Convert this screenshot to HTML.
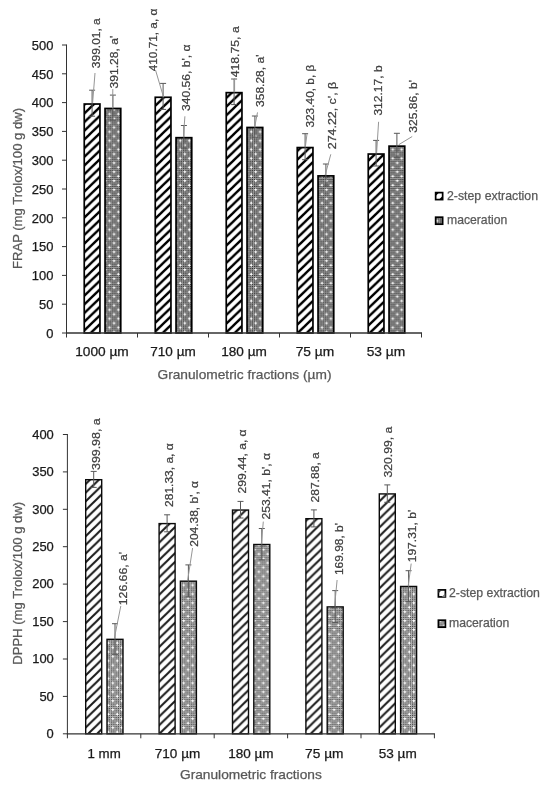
<!DOCTYPE html>
<html lang="en"><head><meta charset="utf-8"><title>FRAP and DPPH by granulometric fraction</title>
<style>html,body{margin:0;padding:0;background:#fff}body{width:550px;height:788px;overflow:hidden}svg{display:block}text{font-family:'Liberation Sans', 'DejaVu Sans', sans-serif;stroke-width:0.25px}</style>
</head><body>
<svg width="550" height="788" viewBox="0 0 550 788">
<defs>
<pattern id="s1" patternUnits="userSpaceOnUse" width="9.0" height="8.68" y="3.8">
<rect width="9.0" height="8.68" fill="#fff"/>
<polygon fill="#000" points="0.00,-1.65 9.00,-10.33 9.00,-7.03 0.00,1.65"/>
<polygon fill="#000" points="0.00,7.03 9.00,-1.65 9.00,1.65 0.00,10.33"/>
<polygon fill="#000" points="0.00,15.71 9.00,7.03 9.00,10.33 0.00,19.01"/>
</pattern>
<pattern id="s2" patternUnits="userSpaceOnUse" width="8.9" height="8.7" y="2.2">
<rect width="8.9" height="8.7" fill="#fff"/>
<polygon fill="#1a1a1a" points="0.00,-1.40 8.90,-10.10 8.90,-7.30 0.00,1.40"/>
<polygon fill="#1a1a1a" points="0.00,7.30 8.90,-1.40 8.90,1.40 0.00,10.10"/>
<polygon fill="#1a1a1a" points="0.00,16.00 8.90,7.30 8.90,10.10 0.00,18.80"/>
</pattern>
<pattern id="d1" patternUnits="userSpaceOnUse" width="8.85" height="8.9" x="1.2" y="5.0">
<rect width="8.85" height="8.9" fill="#989898"/>
<rect x="0.56" y="0.56" width="1.1" height="1.1" fill="#161616"/>
<rect x="0.56" y="2.79" width="1.1" height="1.1" fill="#161616"/>
<rect x="0.56" y="5.01" width="1.1" height="1.1" fill="#161616"/>
<rect x="0.56" y="7.24" width="1.1" height="1.1" fill="#161616"/>
<rect x="2.77" y="0.56" width="1.1" height="1.1" fill="#161616"/>
<rect x="2.77" y="2.79" width="1.1" height="1.1" fill="#161616"/>
<rect x="2.77" y="5.01" width="1.1" height="1.1" fill="#161616"/>
<rect x="2.77" y="7.24" width="1.1" height="1.1" fill="#161616"/>
<rect x="4.98" y="0.56" width="1.1" height="1.1" fill="#161616"/>
<rect x="4.98" y="2.79" width="1.1" height="1.1" fill="#161616"/>
<rect x="4.98" y="5.01" width="1.1" height="1.1" fill="#161616"/>
<rect x="4.98" y="7.24" width="1.1" height="1.1" fill="#161616"/>
<rect x="7.19" y="0.56" width="1.1" height="1.1" fill="#161616"/>
<rect x="7.19" y="2.79" width="1.1" height="1.1" fill="#161616"/>
<rect x="7.19" y="5.01" width="1.1" height="1.1" fill="#161616"/>
<rect x="7.19" y="7.24" width="1.1" height="1.1" fill="#161616"/>
<polygon fill="#fff" points="0.65,2.23 2.21,0.66 3.77,2.23 2.21,3.79"/>
<polygon fill="#fff" points="5.07,6.68 6.64,5.11 8.20,6.68 6.64,8.24"/>
</pattern>
<pattern id="d2" patternUnits="userSpaceOnUse" width="8.85" height="8.9" x="0" y="0">
<rect width="8.85" height="8.9" fill="#b0b0b0"/>
<rect x="0.56" y="0.56" width="1.1" height="1.1" fill="#333"/>
<rect x="0.56" y="2.79" width="1.1" height="1.1" fill="#333"/>
<rect x="0.56" y="5.01" width="1.1" height="1.1" fill="#333"/>
<rect x="0.56" y="7.24" width="1.1" height="1.1" fill="#333"/>
<rect x="2.77" y="0.56" width="1.1" height="1.1" fill="#333"/>
<rect x="2.77" y="2.79" width="1.1" height="1.1" fill="#333"/>
<rect x="2.77" y="5.01" width="1.1" height="1.1" fill="#333"/>
<rect x="2.77" y="7.24" width="1.1" height="1.1" fill="#333"/>
<rect x="4.98" y="0.56" width="1.1" height="1.1" fill="#333"/>
<rect x="4.98" y="2.79" width="1.1" height="1.1" fill="#333"/>
<rect x="4.98" y="5.01" width="1.1" height="1.1" fill="#333"/>
<rect x="4.98" y="7.24" width="1.1" height="1.1" fill="#333"/>
<rect x="7.19" y="0.56" width="1.1" height="1.1" fill="#333"/>
<rect x="7.19" y="2.79" width="1.1" height="1.1" fill="#333"/>
<rect x="7.19" y="5.01" width="1.1" height="1.1" fill="#333"/>
<rect x="7.19" y="7.24" width="1.1" height="1.1" fill="#333"/>
<polygon fill="#fff" points="0.65,2.23 2.21,0.66 3.77,2.23 2.21,3.79"/>
<polygon fill="#fff" points="5.07,6.68 6.64,5.11 8.20,6.68 6.64,8.24"/>
</pattern>
</defs>
<rect width="550" height="788" fill="#fff"/>
<rect x="84.25" y="104.02" width="15.70" height="228.98" fill="url(#s1)" stroke="#000" stroke-width="1.7"/>
<rect x="105.05" y="108.47" width="15.70" height="224.53" fill="url(#d1)" stroke="#000" stroke-width="1.7"/>
<rect x="155.25" y="97.28" width="15.70" height="235.72" fill="url(#s1)" stroke="#000" stroke-width="1.7"/>
<rect x="176.05" y="137.69" width="15.70" height="195.31" fill="url(#d1)" stroke="#000" stroke-width="1.7"/>
<rect x="226.25" y="92.65" width="15.70" height="240.35" fill="url(#s1)" stroke="#000" stroke-width="1.7"/>
<rect x="247.05" y="127.48" width="15.70" height="205.52" fill="url(#d1)" stroke="#000" stroke-width="1.7"/>
<rect x="297.25" y="147.57" width="15.70" height="185.43" fill="url(#s1)" stroke="#000" stroke-width="1.7"/>
<rect x="318.05" y="175.90" width="15.70" height="157.10" fill="url(#d1)" stroke="#000" stroke-width="1.7"/>
<rect x="368.25" y="154.04" width="15.70" height="178.96" fill="url(#s1)" stroke="#000" stroke-width="1.7"/>
<rect x="389.05" y="146.15" width="15.70" height="186.85" fill="url(#d1)" stroke="#000" stroke-width="1.7"/>
<line x1="92.1" y1="90.2" x2="92.1" y2="116.2" stroke="#585858" stroke-width="1"/>
<line x1="89.1" y1="90.2" x2="95.1" y2="90.2" stroke="#585858" stroke-width="1"/>
<line x1="89.1" y1="116.2" x2="95.1" y2="116.2" stroke="#585858" stroke-width="1"/>
<line x1="112.9" y1="95.1" x2="112.9" y2="120.1" stroke="#585858" stroke-width="1"/>
<line x1="109.9" y1="95.1" x2="115.9" y2="95.1" stroke="#585858" stroke-width="1"/>
<line x1="109.9" y1="120.1" x2="115.9" y2="120.1" stroke="#585858" stroke-width="1"/>
<line x1="163.1" y1="83.4" x2="163.1" y2="109.4" stroke="#585858" stroke-width="1"/>
<line x1="160.1" y1="83.4" x2="166.1" y2="83.4" stroke="#585858" stroke-width="1"/>
<line x1="160.1" y1="109.4" x2="166.1" y2="109.4" stroke="#585858" stroke-width="1"/>
<line x1="183.9" y1="125.5" x2="183.9" y2="148.1" stroke="#585858" stroke-width="1"/>
<line x1="180.9" y1="125.5" x2="186.9" y2="125.5" stroke="#585858" stroke-width="1"/>
<line x1="180.9" y1="148.1" x2="186.9" y2="148.1" stroke="#585858" stroke-width="1"/>
<line x1="234.1" y1="79.0" x2="234.1" y2="104.6" stroke="#585858" stroke-width="1"/>
<line x1="231.1" y1="79.0" x2="237.1" y2="79.0" stroke="#585858" stroke-width="1"/>
<line x1="231.1" y1="104.6" x2="237.1" y2="104.6" stroke="#585858" stroke-width="1"/>
<line x1="254.9" y1="116.0" x2="254.9" y2="137.2" stroke="#585858" stroke-width="1"/>
<line x1="251.9" y1="116.0" x2="257.9" y2="116.0" stroke="#585858" stroke-width="1"/>
<line x1="251.9" y1="137.2" x2="257.9" y2="137.2" stroke="#585858" stroke-width="1"/>
<line x1="305.1" y1="133.7" x2="305.1" y2="159.7" stroke="#585858" stroke-width="1"/>
<line x1="302.1" y1="133.7" x2="308.1" y2="133.7" stroke="#585858" stroke-width="1"/>
<line x1="302.1" y1="159.7" x2="308.1" y2="159.7" stroke="#585858" stroke-width="1"/>
<line x1="325.9" y1="164.0" x2="325.9" y2="186.0" stroke="#585858" stroke-width="1"/>
<line x1="322.9" y1="164.0" x2="328.9" y2="164.0" stroke="#585858" stroke-width="1"/>
<line x1="322.9" y1="186.0" x2="328.9" y2="186.0" stroke="#585858" stroke-width="1"/>
<line x1="376.1" y1="140.4" x2="376.1" y2="166.0" stroke="#585858" stroke-width="1"/>
<line x1="373.1" y1="140.4" x2="379.1" y2="140.4" stroke="#585858" stroke-width="1"/>
<line x1="373.1" y1="166.0" x2="379.1" y2="166.0" stroke="#585858" stroke-width="1"/>
<line x1="396.9" y1="133.3" x2="396.9" y2="157.3" stroke="#585858" stroke-width="1"/>
<line x1="393.9" y1="133.3" x2="399.9" y2="133.3" stroke="#585858" stroke-width="1"/>
<line x1="393.9" y1="157.3" x2="399.9" y2="157.3" stroke="#585858" stroke-width="1"/>
<line x1="66.5" y1="44.5" x2="66.5" y2="333.5" stroke="#333" stroke-width="1"/>
<line x1="66.0" y1="333.0" x2="422.0" y2="333.0" stroke="#333" stroke-width="1.3"/>
<line x1="62.0" y1="333.0" x2="66.5" y2="333.0" stroke="#333" stroke-width="1"/>
<text x="53.4" y="337.7" font-size="12" fill="#1a1a1a" stroke="#1a1a1a" text-anchor="end" textLength="7.2" lengthAdjust="spacingAndGlyphs">0</text>
<line x1="62.0" y1="304.2" x2="66.5" y2="304.2" stroke="#333" stroke-width="1"/>
<text x="53.4" y="308.9" font-size="12" fill="#1a1a1a" stroke="#1a1a1a" text-anchor="end" textLength="14.4" lengthAdjust="spacingAndGlyphs">50</text>
<line x1="62.0" y1="275.4" x2="66.5" y2="275.4" stroke="#333" stroke-width="1"/>
<text x="53.4" y="280.1" font-size="12" fill="#1a1a1a" stroke="#1a1a1a" text-anchor="end" textLength="21.6" lengthAdjust="spacingAndGlyphs">100</text>
<line x1="62.0" y1="246.6" x2="66.5" y2="246.6" stroke="#333" stroke-width="1"/>
<text x="53.4" y="251.3" font-size="12" fill="#1a1a1a" stroke="#1a1a1a" text-anchor="end" textLength="21.6" lengthAdjust="spacingAndGlyphs">150</text>
<line x1="62.0" y1="217.8" x2="66.5" y2="217.8" stroke="#333" stroke-width="1"/>
<text x="53.4" y="222.5" font-size="12" fill="#1a1a1a" stroke="#1a1a1a" text-anchor="end" textLength="21.6" lengthAdjust="spacingAndGlyphs">200</text>
<line x1="62.0" y1="189.0" x2="66.5" y2="189.0" stroke="#333" stroke-width="1"/>
<text x="53.4" y="193.7" font-size="12" fill="#1a1a1a" stroke="#1a1a1a" text-anchor="end" textLength="21.6" lengthAdjust="spacingAndGlyphs">250</text>
<line x1="62.0" y1="160.2" x2="66.5" y2="160.2" stroke="#333" stroke-width="1"/>
<text x="53.4" y="164.9" font-size="12" fill="#1a1a1a" stroke="#1a1a1a" text-anchor="end" textLength="21.6" lengthAdjust="spacingAndGlyphs">300</text>
<line x1="62.0" y1="131.4" x2="66.5" y2="131.4" stroke="#333" stroke-width="1"/>
<text x="53.4" y="136.1" font-size="12" fill="#1a1a1a" stroke="#1a1a1a" text-anchor="end" textLength="21.6" lengthAdjust="spacingAndGlyphs">350</text>
<line x1="62.0" y1="102.6" x2="66.5" y2="102.6" stroke="#333" stroke-width="1"/>
<text x="53.4" y="107.3" font-size="12" fill="#1a1a1a" stroke="#1a1a1a" text-anchor="end" textLength="21.6" lengthAdjust="spacingAndGlyphs">400</text>
<line x1="62.0" y1="73.8" x2="66.5" y2="73.8" stroke="#333" stroke-width="1"/>
<text x="53.4" y="78.5" font-size="12" fill="#1a1a1a" stroke="#1a1a1a" text-anchor="end" textLength="21.6" lengthAdjust="spacingAndGlyphs">450</text>
<line x1="62.0" y1="45.0" x2="66.5" y2="45.0" stroke="#333" stroke-width="1"/>
<text x="53.4" y="49.7" font-size="12" fill="#1a1a1a" stroke="#1a1a1a" text-anchor="end" textLength="21.6" lengthAdjust="spacingAndGlyphs">500</text>
<line x1="66.5" y1="333.0" x2="66.5" y2="337.5" stroke="#333" stroke-width="1"/>
<line x1="137.5" y1="333.0" x2="137.5" y2="337.5" stroke="#333" stroke-width="1"/>
<line x1="208.5" y1="333.0" x2="208.5" y2="337.5" stroke="#333" stroke-width="1"/>
<line x1="279.5" y1="333.0" x2="279.5" y2="337.5" stroke="#333" stroke-width="1"/>
<line x1="350.5" y1="333.0" x2="350.5" y2="337.5" stroke="#333" stroke-width="1"/>
<line x1="421.5" y1="333.0" x2="421.5" y2="337.5" stroke="#333" stroke-width="1"/>
<text x="102.0" y="356.0" font-size="12.4" fill="#1a1a1a" stroke="#1a1a1a" text-anchor="middle" textLength="53.6" lengthAdjust="spacingAndGlyphs">1000 µm</text>
<text x="173.0" y="356.0" font-size="12.4" fill="#1a1a1a" stroke="#1a1a1a" text-anchor="middle" textLength="45.4" lengthAdjust="spacingAndGlyphs">710 µm</text>
<text x="244.0" y="356.0" font-size="12.4" fill="#1a1a1a" stroke="#1a1a1a" text-anchor="middle" textLength="45.6" lengthAdjust="spacingAndGlyphs">180 µm</text>
<text x="315.0" y="356.0" font-size="12.4" fill="#1a1a1a" stroke="#1a1a1a" text-anchor="middle" textLength="38.6" lengthAdjust="spacingAndGlyphs">75 µm</text>
<text x="386.0" y="356.0" font-size="12.4" fill="#1a1a1a" stroke="#1a1a1a" text-anchor="middle" textLength="38.6" lengthAdjust="spacingAndGlyphs">53 µm</text>
<line x1="95.0" y1="73.0" x2="92.6" y2="103.0" stroke="#969696" stroke-width="1"/>
<line x1="112.8" y1="89.0" x2="112.6" y2="108.0" stroke="#969696" stroke-width="1"/>
<line x1="155.5" y1="70.0" x2="163.5" y2="97.0" stroke="#969696" stroke-width="1"/>
<line x1="184.9" y1="116.3" x2="183.4" y2="137.0" stroke="#969696" stroke-width="1"/>
<line x1="234.6" y1="78.0" x2="234.6" y2="92.0" stroke="#969696" stroke-width="1"/>
<line x1="257.5" y1="112.4" x2="254.7" y2="127.0" stroke="#969696" stroke-width="1"/>
<line x1="307.0" y1="134.0" x2="305.4" y2="146.5" stroke="#969696" stroke-width="1"/>
<line x1="330.8" y1="154.3" x2="325.2" y2="175.0" stroke="#969696" stroke-width="1"/>
<line x1="378.6" y1="121.8" x2="376.6" y2="153.0" stroke="#969696" stroke-width="1"/>
<line x1="412.2" y1="136.5" x2="398.7" y2="144.7" stroke="#969696" stroke-width="1"/>
<text x="100.3" y="68.2" font-size="11.6" fill="#404040" stroke="#404040" text-anchor="start" textLength="50.0" lengthAdjust="spacingAndGlyphs" transform="rotate(-90 100.3 68.2)">399.01, a</text>
<text x="118.0" y="88.5" font-size="11.6" fill="#404040" stroke="#404040" text-anchor="start" textLength="52.7" lengthAdjust="spacingAndGlyphs" transform="rotate(-90 118.0 88.5)">391.28, a'</text>
<text x="157.5" y="71.3" font-size="11.6" fill="#404040" stroke="#404040" text-anchor="start" textLength="62.6" lengthAdjust="spacingAndGlyphs" transform="rotate(-90 157.5 71.3)">410.71, a, α</text>
<text x="190.0" y="111.0" font-size="11.6" fill="#404040" stroke="#404040" text-anchor="start" textLength="66.5" lengthAdjust="spacingAndGlyphs" transform="rotate(-90 190.0 111.0)">340.56, b', α</text>
<text x="239.3" y="77.3" font-size="11.6" fill="#404040" stroke="#404040" text-anchor="start" textLength="51.0" lengthAdjust="spacingAndGlyphs" transform="rotate(-90 239.3 77.3)">418.75, a</text>
<text x="264.0" y="107.0" font-size="11.6" fill="#404040" stroke="#404040" text-anchor="start" textLength="52.5" lengthAdjust="spacingAndGlyphs" transform="rotate(-90 264.0 107.0)">358.28, a'</text>
<text x="313.8" y="127.6" font-size="11.6" fill="#404040" stroke="#404040" text-anchor="start" textLength="63.0" lengthAdjust="spacingAndGlyphs" transform="rotate(-90 313.8 127.6)">323.40, b, β</text>
<text x="336.5" y="149.2" font-size="11.6" fill="#404040" stroke="#404040" text-anchor="start" textLength="67.4" lengthAdjust="spacingAndGlyphs" transform="rotate(-90 336.5 149.2)">274.22, c', β</text>
<text x="382.0" y="115.6" font-size="11.6" fill="#404040" stroke="#404040" text-anchor="start" textLength="50.3" lengthAdjust="spacingAndGlyphs" transform="rotate(-90 382.0 115.6)">312.17, b</text>
<text x="417.5" y="132.7" font-size="11.6" fill="#404040" stroke="#404040" text-anchor="start" textLength="52.7" lengthAdjust="spacingAndGlyphs" transform="rotate(-90 417.5 132.7)">325.86, b'</text>
<text x="157.5" y="379.0" font-size="12.4" fill="#595959" stroke="#595959" text-anchor="start" textLength="174.0" lengthAdjust="spacingAndGlyphs">Granulometric fractions (µm)</text>
<text x="21.5" y="269.0" font-size="12.4" fill="#595959" stroke="#595959" text-anchor="start" textLength="161.0" lengthAdjust="spacingAndGlyphs" transform="rotate(-90 21.5 269.0)">FRAP (mg Trolox/100 g dw)</text>
<rect x="435.65" y="192.60" width="7.00" height="7.00" fill="#fff" stroke="#000" stroke-width="1.7"/>
<polygon fill="#000" points="435.65,192.60 439.15,192.60 435.65,196.10"/>
<polygon fill="#000" points="442.65,199.60 438.95,199.60 442.65,195.90"/>
<text x="447.0" y="199.8" font-size="12.4" fill="#595959" stroke="#595959" text-anchor="start" textLength="91.0" lengthAdjust="spacingAndGlyphs">2-step extraction</text>
<rect x="435.65" y="217.20" width="7.00" height="7.00" fill="url(#d1)" stroke="#000" stroke-width="1.7"/>
<text x="447.0" y="224.4" font-size="12.4" fill="#595959" stroke="#595959" text-anchor="start" textLength="60.3" lengthAdjust="spacingAndGlyphs">maceration</text>
<rect x="85.70" y="479.69" width="16.00" height="254.10" fill="url(#s2)" stroke="#0a0a0a" stroke-width="1.4"/>
<rect x="107.00" y="639.33" width="16.00" height="94.47" fill="url(#d2)" stroke="#0a0a0a" stroke-width="1.4"/>
<rect x="159.10" y="523.59" width="16.00" height="210.21" fill="url(#s2)" stroke="#0a0a0a" stroke-width="1.4"/>
<rect x="180.40" y="581.17" width="16.00" height="152.63" fill="url(#d2)" stroke="#0a0a0a" stroke-width="1.4"/>
<rect x="232.50" y="510.04" width="16.00" height="223.76" fill="url(#s2)" stroke="#0a0a0a" stroke-width="1.4"/>
<rect x="253.80" y="544.49" width="16.00" height="189.31" fill="url(#d2)" stroke="#0a0a0a" stroke-width="1.4"/>
<rect x="305.90" y="518.69" width="16.00" height="215.11" fill="url(#s2)" stroke="#0a0a0a" stroke-width="1.4"/>
<rect x="327.20" y="606.91" width="16.00" height="126.89" fill="url(#d2)" stroke="#0a0a0a" stroke-width="1.4"/>
<rect x="379.30" y="493.92" width="16.00" height="239.88" fill="url(#s2)" stroke="#0a0a0a" stroke-width="1.4"/>
<rect x="400.60" y="586.46" width="16.00" height="147.34" fill="url(#d2)" stroke="#0a0a0a" stroke-width="1.4"/>
<line x1="93.7" y1="471.4" x2="93.7" y2="487.4" stroke="#585858" stroke-width="1"/>
<line x1="90.7" y1="471.4" x2="96.7" y2="471.4" stroke="#585858" stroke-width="1"/>
<line x1="90.7" y1="487.4" x2="96.7" y2="487.4" stroke="#585858" stroke-width="1"/>
<line x1="115.0" y1="623.7" x2="115.0" y2="654.3" stroke="#585858" stroke-width="1"/>
<line x1="112.0" y1="623.7" x2="118.0" y2="623.7" stroke="#585858" stroke-width="1"/>
<line x1="112.0" y1="654.3" x2="118.0" y2="654.3" stroke="#585858" stroke-width="1"/>
<line x1="167.1" y1="514.8" x2="167.1" y2="531.8" stroke="#585858" stroke-width="1"/>
<line x1="164.1" y1="514.8" x2="170.1" y2="514.8" stroke="#585858" stroke-width="1"/>
<line x1="164.1" y1="531.8" x2="170.1" y2="531.8" stroke="#585858" stroke-width="1"/>
<line x1="188.4" y1="564.9" x2="188.4" y2="596.9" stroke="#585858" stroke-width="1"/>
<line x1="185.4" y1="564.9" x2="191.4" y2="564.9" stroke="#585858" stroke-width="1"/>
<line x1="185.4" y1="596.9" x2="191.4" y2="596.9" stroke="#585858" stroke-width="1"/>
<line x1="240.5" y1="501.4" x2="240.5" y2="518.0" stroke="#585858" stroke-width="1"/>
<line x1="237.5" y1="501.4" x2="243.5" y2="501.4" stroke="#585858" stroke-width="1"/>
<line x1="237.5" y1="518.0" x2="243.5" y2="518.0" stroke="#585858" stroke-width="1"/>
<line x1="261.8" y1="528.5" x2="261.8" y2="559.9" stroke="#585858" stroke-width="1"/>
<line x1="258.8" y1="528.5" x2="264.8" y2="528.5" stroke="#585858" stroke-width="1"/>
<line x1="258.8" y1="559.9" x2="264.8" y2="559.9" stroke="#585858" stroke-width="1"/>
<line x1="313.9" y1="509.9" x2="313.9" y2="526.9" stroke="#585858" stroke-width="1"/>
<line x1="310.9" y1="509.9" x2="316.9" y2="509.9" stroke="#585858" stroke-width="1"/>
<line x1="310.9" y1="526.9" x2="316.9" y2="526.9" stroke="#585858" stroke-width="1"/>
<line x1="335.2" y1="590.6" x2="335.2" y2="622.6" stroke="#585858" stroke-width="1"/>
<line x1="332.2" y1="590.6" x2="338.2" y2="590.6" stroke="#585858" stroke-width="1"/>
<line x1="332.2" y1="622.6" x2="338.2" y2="622.6" stroke="#585858" stroke-width="1"/>
<line x1="387.3" y1="484.9" x2="387.3" y2="502.3" stroke="#585858" stroke-width="1"/>
<line x1="384.3" y1="484.9" x2="390.3" y2="484.9" stroke="#585858" stroke-width="1"/>
<line x1="384.3" y1="502.3" x2="390.3" y2="502.3" stroke="#585858" stroke-width="1"/>
<line x1="408.6" y1="570.7" x2="408.6" y2="601.7" stroke="#585858" stroke-width="1"/>
<line x1="405.6" y1="570.7" x2="411.6" y2="570.7" stroke="#585858" stroke-width="1"/>
<line x1="405.6" y1="601.7" x2="411.6" y2="601.7" stroke="#585858" stroke-width="1"/>
<line x1="67.4" y1="434.0" x2="67.4" y2="734.3" stroke="#333" stroke-width="1"/>
<line x1="66.9" y1="733.8" x2="434.9" y2="733.8" stroke="#333" stroke-width="1.3"/>
<line x1="62.9" y1="733.8" x2="67.4" y2="733.8" stroke="#333" stroke-width="1"/>
<text x="53.8" y="738.0" font-size="12" fill="#1a1a1a" stroke="#1a1a1a" text-anchor="end" textLength="7.2" lengthAdjust="spacingAndGlyphs">0</text>
<line x1="62.9" y1="696.4" x2="67.4" y2="696.4" stroke="#333" stroke-width="1"/>
<text x="53.8" y="700.6" font-size="12" fill="#1a1a1a" stroke="#1a1a1a" text-anchor="end" textLength="14.4" lengthAdjust="spacingAndGlyphs">50</text>
<line x1="62.9" y1="659.0" x2="67.4" y2="659.0" stroke="#333" stroke-width="1"/>
<text x="53.8" y="663.2" font-size="12" fill="#1a1a1a" stroke="#1a1a1a" text-anchor="end" textLength="21.6" lengthAdjust="spacingAndGlyphs">100</text>
<line x1="62.9" y1="621.6" x2="67.4" y2="621.6" stroke="#333" stroke-width="1"/>
<text x="53.8" y="625.8" font-size="12" fill="#1a1a1a" stroke="#1a1a1a" text-anchor="end" textLength="21.6" lengthAdjust="spacingAndGlyphs">150</text>
<line x1="62.9" y1="584.1" x2="67.4" y2="584.1" stroke="#333" stroke-width="1"/>
<text x="53.8" y="588.4" font-size="12" fill="#1a1a1a" stroke="#1a1a1a" text-anchor="end" textLength="21.6" lengthAdjust="spacingAndGlyphs">200</text>
<line x1="62.9" y1="546.7" x2="67.4" y2="546.7" stroke="#333" stroke-width="1"/>
<text x="53.8" y="550.9" font-size="12" fill="#1a1a1a" stroke="#1a1a1a" text-anchor="end" textLength="21.6" lengthAdjust="spacingAndGlyphs">250</text>
<line x1="62.9" y1="509.3" x2="67.4" y2="509.3" stroke="#333" stroke-width="1"/>
<text x="53.8" y="513.5" font-size="12" fill="#1a1a1a" stroke="#1a1a1a" text-anchor="end" textLength="21.6" lengthAdjust="spacingAndGlyphs">300</text>
<line x1="62.9" y1="471.9" x2="67.4" y2="471.9" stroke="#333" stroke-width="1"/>
<text x="53.8" y="476.1" font-size="12" fill="#1a1a1a" stroke="#1a1a1a" text-anchor="end" textLength="21.6" lengthAdjust="spacingAndGlyphs">350</text>
<line x1="62.9" y1="434.5" x2="67.4" y2="434.5" stroke="#333" stroke-width="1"/>
<text x="53.8" y="438.7" font-size="12" fill="#1a1a1a" stroke="#1a1a1a" text-anchor="end" textLength="21.6" lengthAdjust="spacingAndGlyphs">400</text>
<line x1="67.4" y1="733.8" x2="67.4" y2="738.3" stroke="#333" stroke-width="1"/>
<line x1="140.8" y1="733.8" x2="140.8" y2="738.3" stroke="#333" stroke-width="1"/>
<line x1="214.2" y1="733.8" x2="214.2" y2="738.3" stroke="#333" stroke-width="1"/>
<line x1="287.6" y1="733.8" x2="287.6" y2="738.3" stroke="#333" stroke-width="1"/>
<line x1="361.0" y1="733.8" x2="361.0" y2="738.3" stroke="#333" stroke-width="1"/>
<line x1="434.4" y1="733.8" x2="434.4" y2="738.3" stroke="#333" stroke-width="1"/>
<text x="104.1" y="757.6" font-size="12.4" fill="#1a1a1a" stroke="#1a1a1a" text-anchor="middle" textLength="33.2" lengthAdjust="spacingAndGlyphs">1 mm</text>
<text x="177.5" y="757.6" font-size="12.4" fill="#1a1a1a" stroke="#1a1a1a" text-anchor="middle" textLength="45.4" lengthAdjust="spacingAndGlyphs">710 µm</text>
<text x="250.9" y="757.6" font-size="12.4" fill="#1a1a1a" stroke="#1a1a1a" text-anchor="middle" textLength="45.4" lengthAdjust="spacingAndGlyphs">180 µm</text>
<text x="324.3" y="757.6" font-size="12.4" fill="#1a1a1a" stroke="#1a1a1a" text-anchor="middle" textLength="38.4" lengthAdjust="spacingAndGlyphs">75 µm</text>
<text x="397.7" y="757.6" font-size="12.4" fill="#1a1a1a" stroke="#1a1a1a" text-anchor="middle" textLength="38.0" lengthAdjust="spacingAndGlyphs">53 µm</text>
<line x1="120.8" y1="606.0" x2="114.4" y2="638.0" stroke="#969696" stroke-width="1"/>
<line x1="192.6" y1="548.0" x2="187.7" y2="580.0" stroke="#969696" stroke-width="1"/>
<line x1="263.3" y1="521.6" x2="261.3" y2="544.0" stroke="#969696" stroke-width="1"/>
<line x1="337.1" y1="580.0" x2="334.6" y2="606.0" stroke="#969696" stroke-width="1"/>
<line x1="411.2" y1="563.6" x2="408.2" y2="586.0" stroke="#969696" stroke-width="1"/>
<text x="99.5" y="470.0" font-size="11.6" fill="#404040" stroke="#404040" text-anchor="start" textLength="51.7" lengthAdjust="spacingAndGlyphs" transform="rotate(-90 99.5 470.0)">399.98, a</text>
<text x="127.0" y="605.2" font-size="11.6" fill="#404040" stroke="#404040" text-anchor="start" textLength="53.4" lengthAdjust="spacingAndGlyphs" transform="rotate(-90 127.0 605.2)">126.66, a'</text>
<text x="172.7" y="506.9" font-size="11.6" fill="#404040" stroke="#404040" text-anchor="start" textLength="63.6" lengthAdjust="spacingAndGlyphs" transform="rotate(-90 172.7 506.9)">281.33, a, α</text>
<text x="198.0" y="546.7" font-size="11.6" fill="#404040" stroke="#404040" text-anchor="start" textLength="65.7" lengthAdjust="spacingAndGlyphs" transform="rotate(-90 198.0 546.7)">204.38, b', α</text>
<text x="246.0" y="493.4" font-size="11.6" fill="#404040" stroke="#404040" text-anchor="start" textLength="64.0" lengthAdjust="spacingAndGlyphs" transform="rotate(-90 246.0 493.4)">299.44, a, α</text>
<text x="270.3" y="519.6" font-size="11.6" fill="#404040" stroke="#404040" text-anchor="start" textLength="66.6" lengthAdjust="spacingAndGlyphs" transform="rotate(-90 270.3 519.6)">253.41, b', α</text>
<text x="318.5" y="502.5" font-size="11.6" fill="#404040" stroke="#404040" text-anchor="start" textLength="50.3" lengthAdjust="spacingAndGlyphs" transform="rotate(-90 318.5 502.5)">287.88, a</text>
<text x="343.2" y="575.0" font-size="11.6" fill="#404040" stroke="#404040" text-anchor="start" textLength="52.0" lengthAdjust="spacingAndGlyphs" transform="rotate(-90 343.2 575.0)">169.98, b'</text>
<text x="392.4" y="477.6" font-size="11.6" fill="#404040" stroke="#404040" text-anchor="start" textLength="51.0" lengthAdjust="spacingAndGlyphs" transform="rotate(-90 392.4 477.6)">320.99, a</text>
<text x="416.0" y="562.3" font-size="11.6" fill="#404040" stroke="#404040" text-anchor="start" textLength="52.6" lengthAdjust="spacingAndGlyphs" transform="rotate(-90 416.0 562.3)">197.31, b'</text>
<text x="180.0" y="778.5" font-size="12.4" fill="#595959" stroke="#595959" text-anchor="start" textLength="141.8" lengthAdjust="spacingAndGlyphs">Granulometric fractions</text>
<text x="22.0" y="664.8" font-size="12.4" fill="#595959" stroke="#595959" text-anchor="start" textLength="163.0" lengthAdjust="spacingAndGlyphs" transform="rotate(-90 22.0 664.8)">DPPH (mg Trolox/100 g dw)</text>
<rect x="438.40" y="589.90" width="7.00" height="7.00" fill="#fff" stroke="#000" stroke-width="1.7"/>
<polygon fill="#333" points="438.40,589.90 441.90,589.90 438.40,593.40"/>
<polygon fill="#777" points="445.40,596.90 441.70,596.90 445.40,593.20"/>
<text x="449.0" y="597.1" font-size="12.4" fill="#595959" stroke="#595959" text-anchor="start" textLength="90.8" lengthAdjust="spacingAndGlyphs">2-step extraction</text>
<rect x="438.40" y="620.20" width="7.00" height="7.00" fill="url(#d2)" stroke="#000" stroke-width="1.7"/>
<text x="449.0" y="627.4" font-size="12.4" fill="#595959" stroke="#595959" text-anchor="start" textLength="60.4" lengthAdjust="spacingAndGlyphs">maceration</text>
</svg></body></html>
